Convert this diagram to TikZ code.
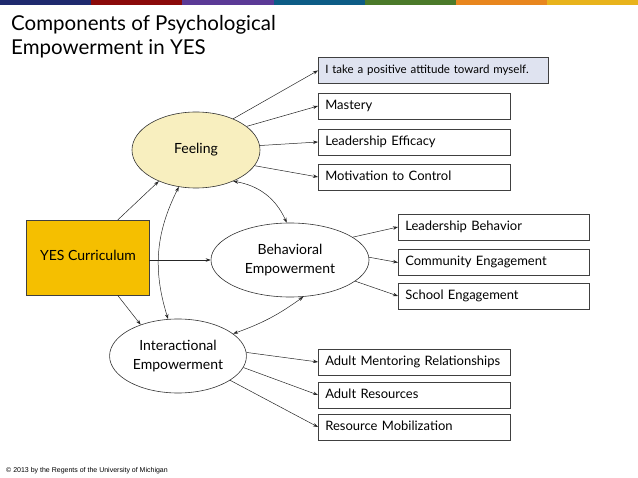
\documentclass[tikz,border=0pt]{standalone}
\usepackage{fontspec}
\setmainfont{Lato}
\usetikzlibrary{shapes.geometric,arrows.meta}
\begin{document}
\begin{tikzpicture}[x=1pt,y=-1pt,
  box/.style={draw=black!75,line width=0.6pt,minimum height=26pt,inner xsep=7pt,anchor=west,align=left,font=\fontsize{13}{15}\selectfont,text height=9.5pt,text depth=2.5pt},
  ell/.style={ellipse,draw=black!80,line width=0.6pt,align=center,font=\fontsize{14}{19}\selectfont},
  arr/.style={-{Stealth[length=5pt,width=3.5pt]},line width=0.5pt,black!85},
  darr/.style={{Stealth[length=5pt,width=3.5pt]}-{Stealth[length=5pt,width=3.5pt]},line width=0.5pt,black!85}]
\useasboundingbox (0,0) rectangle (638,478);
\foreach \c [count=\i from 0] in {1F2A6E,8B0A0A,5B3A96,0D5C86,4B7A2A,E8861E,E8B31C}{
  \definecolor{bar}{HTML}{\c}
  \fill[bar] (\i*91.2,0) rectangle ({(\i+1)*91.2},5);}
\node[anchor=north west,align=left,inner sep=0,font=\fontsize{20.5}{24}\selectfont] (title) at (11,15) {Components of Psychological\\Empowerment in YES};
\node[anchor=south west,inner sep=0,font=\fontsize{7}{8}\selectfont\sffamily,text=black] (foot) at (6,474) {\fontspec{Liberation Sans}© 2013 by the Regents of the University of Michigan};
\definecolor{feel}{HTML}{F8EFBF}
\definecolor{yes}{HTML}{F5BF00}
\definecolor{blue1}{HTML}{DFE3F0}
\node[ell,fill=feel,minimum width=128pt,minimum height=76pt] (F) at (196,150) {Feeling};
\node[ell,minimum width=158pt,minimum height=74pt] (B) at (290,260) {Behavioral\\Empowerment};
\node[ell,minimum width=136pt,minimum height=74pt] (I) at (178,356) {Interactional\\Empowerment};
\node[draw=black!75,fill=yes,minimum width=123pt,minimum height=75pt,anchor=north west,inner sep=0pt] (Y) at (26,220) {};
\node[font=\fontsize{14}{16}\selectfont] (yt) at (88,255) {YES Curriculum};
\node[box,fill=blue1,text width=216pt,font=\fontsize{11.5}{13}\selectfont] (b1) at (318,70.5) {I take a positive attitude toward myself.};
\node[box,text width=178pt] (b2) at (318,106) {Mastery};
\node[box,text width=178pt] (b3) at (318,142) {Leadership Efficacy};
\node[box,text width=178pt] (b4) at (318,177) {Motivation to Control};
\node[box,text width=177pt] (b5) at (398,227) {Leadership Behavior};
\node[box,text width=177pt] (b6) at (398,262.5) {Community Engagement};
\node[box,text width=177pt] (b7) at (398,296) {School Engagement};
\node[box,text width=178pt] (b8) at (318,362) {Adult Mentoring Relationships};
\node[box,text width=178pt] (b9) at (318,395) {Adult Resources};
\node[box,text width=178pt] (b10) at (318,427) {Resource Mobilization};
\draw[arr] (F.40) -- (b1.west);
\draw[arr] (F.25) -- (b2.west);
\draw[arr] (F.4) -- (b3.west);
\draw[arr] (F.-15) -- (b4.west);
\draw[arr] (B.20) -- (b5.west);
\draw[arr] (B.2) -- (b6.west);
\draw[arr] (B.-18) -- (b7.west);
\draw[arr] (I.3) -- (b8.west);
\draw[arr] (I.-10) -- (b9.west);
\draw[arr] (I.-25) -- (b10.west);
\draw[arr] (Y.north) ++(30,0) coordinate (y1) -- (F.-140);
\draw[arr] (Y.east |- B) -- (B.west);
\draw[arr] (Y.south) ++(30,0) coordinate (y2) -- (I.140);
\draw[darr] (F.-115) to[bend right=22] (I.105);
\draw[darr] (F.-40) to[bend left=28] (B.95);
\draw[darr] (B.-70) to[bend left=8] (I.22);
\end{tikzpicture}
\end{document}
